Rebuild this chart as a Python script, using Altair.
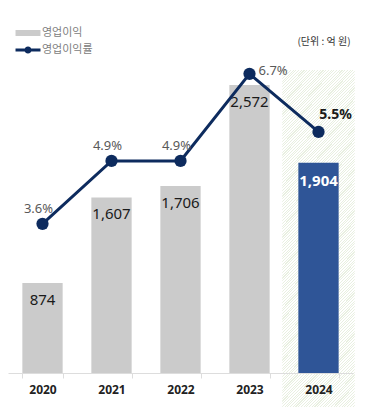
import altair as alt
import pandas as pd

years = ["2020", "2021", "2022", "2023", "2024"]
profit = [874, 1607, 1706, 2572, 1904]
margin = [3.6, 4.9, 4.9, 6.7, 5.5]
profit_labels = ["874", "1,607", "1,706", "2,572", "1,904"]
margin_labels = ["3.6%", "4.9%", "4.9%", "6.7%", "5.5%"]
series = ["영업이익", "영업이익률"]
unit_note = "(단위 : 억 원)"

df = pd.DataFrame({"year": years, "profit": profit, "margin": margin,
                   "plabel": profit_labels, "mlabel": margin_labels})

GREY = "#cbcbcb"
BLUE = "#2f5597"
NAVY = "#0d2b5e"
NUM_FONT = "Noto Sans"
KR_FONT = "Noto Sans CJK KR"

xscale = alt.Scale(domain=years, paddingInner=0.416, paddingOuter=0.208)
x_axis = alt.Axis(labelAngle=0, labelFont=NUM_FONT, labelFontSize=12,
                  labelFontWeight="bold", labelColor="#222222",
                  domainColor="#dddddd", tickColor="#dddddd", tickSize=5,
                  tickBand="extent", labelPadding=6, grid=False, zindex=1)
x_enc = alt.X("year:N", scale=xscale, title=None, axis=x_axis)
ybar = alt.Y("profit:Q", scale=alt.Scale(domain=[102, 3232], zero=False, nice=False), axis=None)
yline = alt.Y("margin:Q", scale=alt.Scale(domain=[0.517, 8.06], zero=False, nice=False), axis=None)

# diagonal hatch as striped gradient
stops = []
n = 150
for i in range(n):
    a = i / n
    b = (i + 0.4) / n
    stops.append(alt.GradientStop(offset=a, color="#e9f0e1"))
    stops.append(alt.GradientStop(offset=b, color="#e9f0e1"))
    stops.append(alt.GradientStop(offset=b, color="#ffffff"))
    stops.append(alt.GradientStop(offset=(i + 1) / n, color="#ffffff"))
hatch_fill = alt.LinearGradient(gradient="linear", stops=stops,
                                x1=0, y1=0, x2=0.2517, y2=1.162)

base = alt.Chart(df)

hatch = base.transform_filter(alt.datum.year == "2024").mark_bar(
    fill=hatch_fill, width=alt.RelativeBandSize(1.8)
).encode(x=x_enc, y=alt.value(62), y2=alt.value(399))

bars = base.mark_bar(clip=True).encode(
    x=x_enc, y=ybar,
    color=alt.condition(alt.datum.year == "2024", alt.value(BLUE), alt.value(GREY)),
)

bar_text = base.transform_filter(alt.datum.year != "2024").mark_text(
    font=NUM_FONT, fontSize=15, color="#1a1a1a", baseline="middle", dy=17
).encode(x=x_enc, y=ybar, text="plabel:N")

bar_text24 = base.transform_filter(alt.datum.year == "2024").mark_text(
    font=NUM_FONT, fontSize=15, fontWeight="bold", color="#ffffff", baseline="middle", dy=18
).encode(x=x_enc, y=ybar, text="plabel:N")

bar_group = alt.layer(bars, bar_text, bar_text24)

line = base.mark_line(color=NAVY, strokeWidth=3).encode(x=x_enc, y=yline)
points = base.mark_point(filled=True, color=NAVY, size=150, opacity=1).encode(x=x_enc, y=yline)

pct_a = base.transform_filter(
    (alt.datum.year == "2020") | (alt.datum.year == "2021") | (alt.datum.year == "2022")
).mark_text(font=NUM_FONT, fontSize=13, color="#595959", baseline="middle", dx=-4, dy=-15
).encode(x=x_enc, y=yline, text="mlabel:N")

pct_b = base.transform_filter(alt.datum.year == "2023").mark_text(
    font=NUM_FONT, fontSize=13, color="#595959", baseline="middle", align="left", dx=9, dy=-3
).encode(x=x_enc, y=yline, text="mlabel:N")

pct_c = base.transform_filter(alt.datum.year == "2024").mark_text(
    font=NUM_FONT, fontSize=14, fontWeight="bold", color="#1a1a1a", baseline="middle", dx=17, dy=-17
).encode(x=x_enc, y=yline, text="mlabel:N")

line_group = alt.layer(line, points, pct_a, pct_b, pct_c)

unit = alt.Chart(pd.DataFrame({"t": [unit_note]})).mark_text(
    font=KR_FONT, fontSize=10, color="#333333", baseline="middle", align="center"
).encode(x=alt.value(316), y=alt.value(34), text="t:N")

bar_sym = "M-2.08,-0.5H2.08V0.5H-2.08Z"
line_sym = ("M-2.08,-0.25H2.08V0.25H-2.08Z "
            "M-0.6,0A0.6,0.6 0 1,1 0.6,0A0.6,0.6 0 1,1 -0.6,0Z")
leg_props = dict(title=None, orient="none", legendX=14, legendY=19,
                 symbolSize=144, symbolOpacity=1, symbolStrokeWidth=0,
                 labelFont=KR_FONT, labelFontSize=11, labelColor="#808080",
                 labelOffset=8, rowPadding=6, padding=0)
leg = alt.Chart(pd.DataFrame({"s": series})).mark_point(filled=True, opacity=0).encode(
    x=alt.value(0), y=alt.value(0),
    shape=alt.Shape("s:N", scale=alt.Scale(domain=series, range=[bar_sym, line_sym]),
                    legend=alt.Legend(**leg_props)),
    color=alt.Color("s:N", scale=alt.Scale(domain=series, range=[GREY, NAVY]),
                    legend=alt.Legend(**leg_props)),
)

chart = alt.layer(hatch, bar_group, line_group, unit, leg).resolve_scale(
    y="independent"
).properties(
    width=345, height=365,
    padding={"left": 0, "top": 0, "right": 24, "bottom": 46},
    autosize=alt.AutoSizeParams(type="none"),
    background="#ffffff",
).configure_view(strokeWidth=0, stroke="transparent")

chart.save("out.html", embed_options={"renderer": "svg", "actions": False})
